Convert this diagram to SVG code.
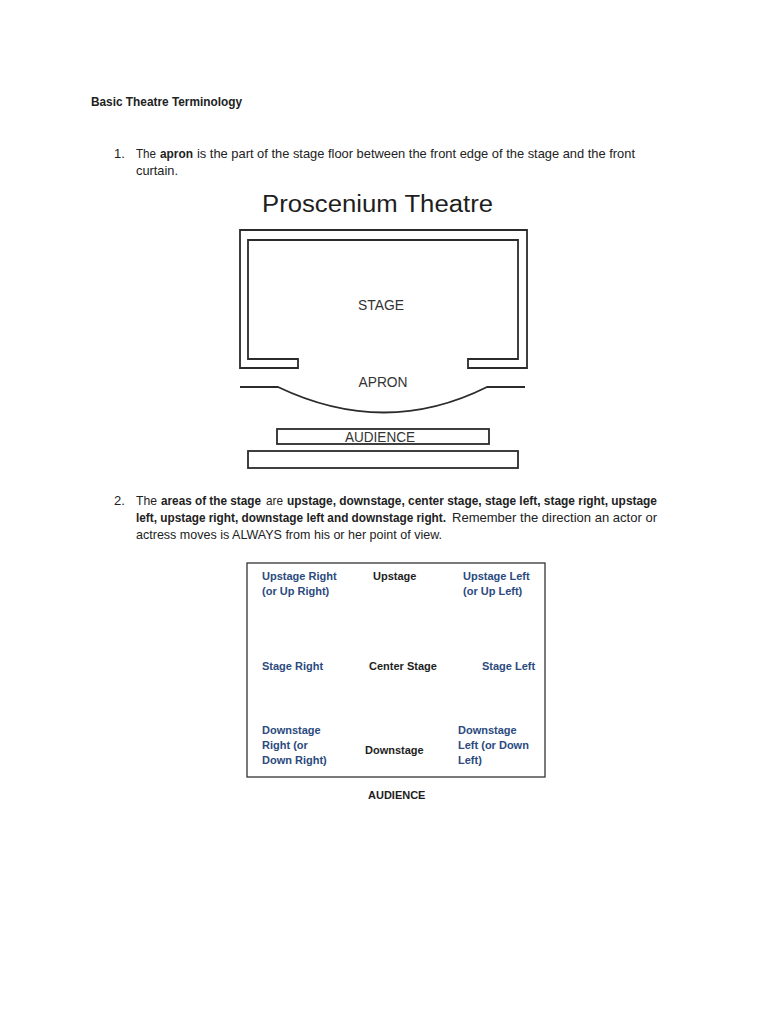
<svg xmlns="http://www.w3.org/2000/svg" width="768" height="1024" viewBox="0 0 768 1024">
<style>
.doc{font-family:"Liberation Sans",Arial,sans-serif;font-size:13px;fill:#222}
.b{font-weight:bold;font-size:12.2px}
.ln{fill:none;stroke:#2b2b2b;stroke-width:1.8}
.lbl{font-family:"Liberation Sans",Arial,sans-serif;font-size:14px;fill:#333;text-anchor:middle}
.g{font-family:"Liberation Sans",Arial,sans-serif;font-size:11px;font-weight:bold}
.blue{fill:#2b4a7e}
.blk{fill:#1e1e1e}
</style>
<rect width="768" height="1024" fill="#ffffff"/>
<g id="document-text">
<text class="doc b" x="91" y="106" textLength="151" lengthAdjust="spacingAndGlyphs">Basic Theatre Terminology</text>
<text class="doc" x="114" y="158">1.</text>
<text class="doc" x="136" y="158" textLength="20" lengthAdjust="spacingAndGlyphs">The</text>
<text class="doc b" x="160" y="158" textLength="33" lengthAdjust="spacingAndGlyphs">apron</text>
<text class="doc" x="197" y="158" textLength="438" lengthAdjust="spacingAndGlyphs">is the part of the stage floor between the front edge of the stage and the front</text>
<text class="doc" x="136" y="175" textLength="42" lengthAdjust="spacingAndGlyphs">curtain.</text>
<text class="doc" x="114" y="505">2.</text>
<text class="doc" x="136" y="505" textLength="21" lengthAdjust="spacingAndGlyphs">The</text>
<text class="doc b" x="161" y="505" textLength="100" lengthAdjust="spacingAndGlyphs">areas of the stage</text>
<text class="doc" x="266" y="505" textLength="17" lengthAdjust="spacingAndGlyphs">are</text>
<text class="doc b" x="287" y="505" textLength="370" lengthAdjust="spacingAndGlyphs">upstage, downstage, center stage, stage left, stage right, upstage</text>
<text class="doc b" x="136" y="522" textLength="310" lengthAdjust="spacingAndGlyphs">left, upstage right, downstage left and downstage right.</text>
<text class="doc" x="452" y="522" textLength="205" lengthAdjust="spacingAndGlyphs">Remember the direction an actor or</text>
<text class="doc" x="136" y="539" textLength="306" lengthAdjust="spacingAndGlyphs">actress moves is ALWAYS from his or her point of view.</text>
</g>
<g id="proscenium-theatre">
<text x="262" y="212" font-family="'Liberation Sans',Arial,sans-serif" font-size="23" fill="#1e1e1e" textLength="231" lengthAdjust="spacingAndGlyphs">Proscenium Theatre</text>
<g id="stage-wall">
<path class="ln" d="M240,230 L527,230 L527,368 L468,368 L468,359 L518,359 L518,240 L248,240 L248,359 L298,359 L298,368 L240,368 Z"/>
<text class="lbl" x="381" y="310" textLength="46" lengthAdjust="spacingAndGlyphs">STAGE</text>
</g>
<g id="apron">
<path class="ln" d="M240,387 L278,387 Q385,438 487,387 L525,387"/>
<text class="lbl" x="383" y="387" textLength="49" lengthAdjust="spacingAndGlyphs">APRON</text>
</g>
<g id="audience-row-1">
<rect class="ln" x="277" y="429" width="212" height="15"/>
<text class="lbl" x="380" y="442" textLength="70" lengthAdjust="spacingAndGlyphs">AUDIENCE</text>
</g>
<g id="audience-row-2">
<rect class="ln" x="248" y="451" width="270" height="17"/>
</g>
</g>
<g id="stage-areas">
<rect x="247" y="563" width="298" height="214" fill="none" stroke="#333" stroke-width="1.3"/>
<g id="upstage-right"><text class="g blue" x="262" y="580">Upstage Right</text><text class="g blue" x="262" y="595">(or Up Right)</text></g>
<g id="upstage"><text class="g blk" x="373" y="580">Upstage</text></g>
<g id="upstage-left"><text class="g blue" x="463" y="580">Upstage Left</text><text class="g blue" x="463" y="595">(or Up Left)</text></g>
<g id="stage-right"><text class="g blue" x="262" y="670">Stage Right</text></g>
<g id="center-stage"><text class="g blk" x="369" y="670">Center Stage</text></g>
<g id="stage-left"><text class="g blue" x="482" y="670">Stage Left</text></g>
<g id="downstage-right"><text class="g blue" x="262" y="734">Downstage</text><text class="g blue" x="262" y="749">Right (or</text><text class="g blue" x="262" y="764">Down Right)</text></g>
<g id="downstage"><text class="g blk" x="365" y="754">Downstage</text></g>
<g id="downstage-left"><text class="g blue" x="458" y="734">Downstage</text><text class="g blue" x="458" y="749">Left (or Down</text><text class="g blue" x="458" y="764">Left)</text></g>
<g id="audience"><text class="g blk" x="368" y="799">AUDIENCE</text></g>
</g>
<g id="connectors"></g>
</svg>
